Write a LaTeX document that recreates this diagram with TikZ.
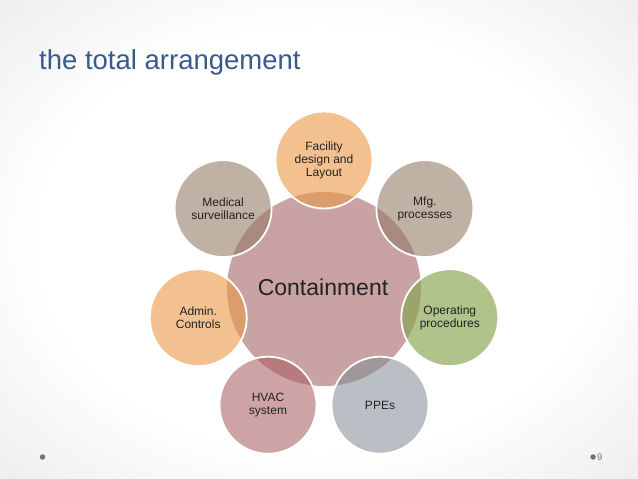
\documentclass[tikz,border=0pt]{standalone}
\usepackage{fontspec}
\setmainfont{Liberation Sans}
\definecolor{cen}{HTML}{C9A2A4}
\definecolor{orangeS}{HTML}{F2C18F}
\definecolor{orangeOv}{HTML}{DC9D6C}
\definecolor{taupe}{HTML}{BFB2A5}
\definecolor{taupeOv}{HTML}{A88A80}
\definecolor{greenS}{HTML}{B0C38B}
\definecolor{greenOv}{HTML}{9DA46B}
\definecolor{grayS}{HTML}{B9BFC4}
\definecolor{grayOv}{HTML}{9F979A}
\definecolor{hvacS}{HTML}{CEA3A5}
\definecolor{hvacOv}{HTML}{B77B7E}
\definecolor{titleblue}{HTML}{3A5A8C}
\definecolor{txt}{HTML}{222222}
\pgfdeclareradialshading{bgshade}{\pgfpoint{0bp}{0bp}}{color(0bp)=(white); color(22bp)=(white); color(50bp)=(black!14)}
\tikzset{
  sat/.style 2 args={circle, minimum size=97pt, inner sep=0pt, fill=#1, draw=white, line width=1.8pt,
    font=\fontsize{12}{13}\selectfont, align=center, text=txt,
    path picture={\fill[#2] (c.center) circle (97pt);}},
  footdot/.style={circle, fill=black!55, minimum size=5.5pt, inner sep=0pt}
}
\begin{document}
\begin{tikzpicture}[x=1pt,y=-1pt]
\shade[shading=bgshade] (0,0) rectangle (638,479);
\useasboundingbox (0,0) rectangle (638,479);
\node[anchor=base west, font=\fontsize{27.5}{32}\selectfont, text=titleblue, inner sep=0pt] (title) at (39,69) {the total arrangement};
\node[circle, minimum size=194pt, inner sep=0pt, fill=cen] (c) at (324,289) {};
\node[anchor=center, font=\fontsize{23}{27}\selectfont, text=txt] (ctext) at (323,287) {Containment};
\node[sat={orangeS}{orangeOv}] (fac) at (324,160) {Facility\\design and\\Layout};
\node[sat={taupe}{taupeOv}] (mfg) at (424.9,208.6) {Mfg.\\processes};
\node[sat={greenS}{greenOv}] (op) at (449.8,317.7) {Operating\\procedures};
\node[sat={grayS}{grayOv}] (ppe) at (380,405.2) {PPEs};
\node[sat={hvacS}{hvacOv}] (hvac) at (268,405.2) {HVAC\\system};
\node[sat={orangeS}{orangeOv}] (adm) at (198.2,317.7) {Admin.\\Controls};
\node[sat={taupe}{taupeOv}] (med) at (223.1,208.6) {Medical\\surveillance};
\node[footdot] (d1) at (42.5,457) {};
\node[footdot] (d2) at (593,457) {};
\node[anchor=west, font=\fontsize{9.5}{10}\selectfont, text=black!55, inner sep=0pt] (pg) at (597,457) {9};
\end{tikzpicture}
\end{document}
